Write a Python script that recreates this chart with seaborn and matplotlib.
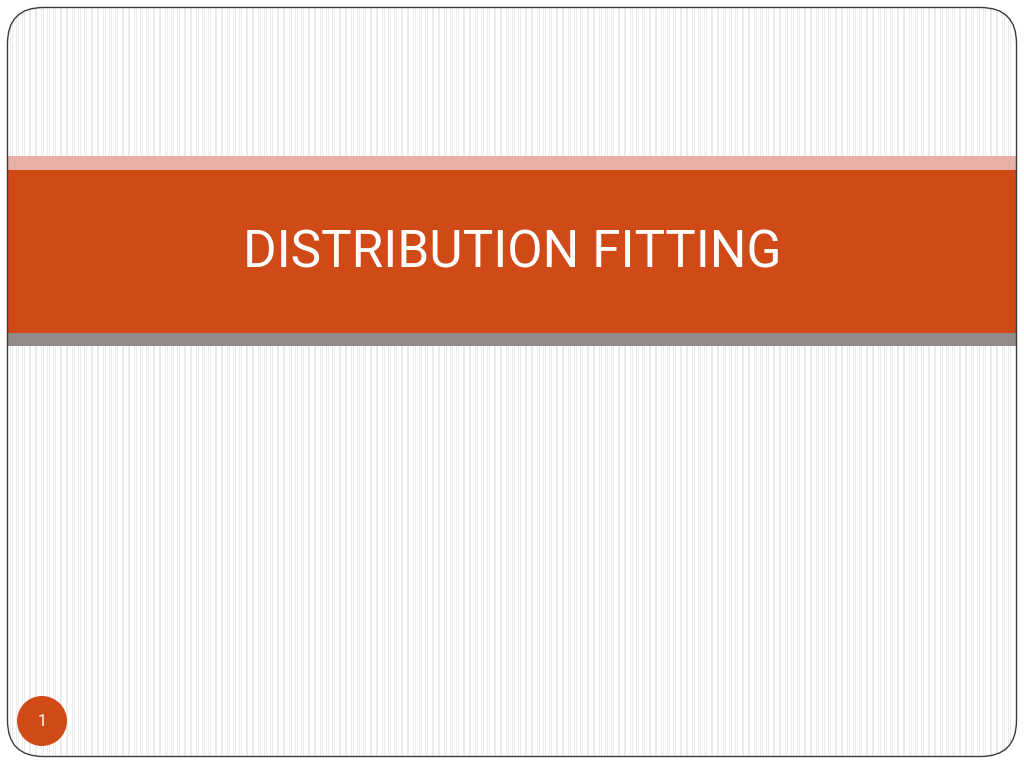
import numpy as np
import matplotlib
matplotlib.use("Agg")
import matplotlib.pyplot as plt
import matplotlib.patches as mpatches
import seaborn as sns

# contenu de la diapo
titre = "DISTRIBUTION FITTING"
numero_page = "1"

# couleurs
orange = "#D04A18"
rose = "#E8AFA4"
gris = "#938A8A"
rayure = "#E0E0E0"

sns.set_theme(style="white")
plt.rcParams['font.family'] = ['Liberation Sans Narrow', 'Roboto', 'DejaVu Sans']

fig = plt.figure(figsize=(10.24, 7.68), dpi=100)
ax = fig.add_axes([0, 0, 1, 1])
ax.set_xlim(0, 1024)
ax.set_ylim(768, 0)
ax.axis('off')

# cadre arrondi
x0, y0, x1, y1 = 7.5, 7.5, 1016.5, 756.5
r = 36
cadre = mpatches.FancyBboxPatch((x0 + r, y0 + r), (x1 - x0) - 2 * r, (y1 - y0) - 2 * r,
                                boxstyle=f"round,pad={r},rounding_size={r}",
                                facecolor="white", edgecolor="none", zorder=1)
ax.add_patch(cadre)

# rayures verticales (texture du fond) : paires de traits fins
xs = np.arange(10, 1014, 6.2)
for x in xs:
    for dx in (0, 1.6):
        ax.plot([x + dx, x + dx], [y0, y1], color=rayure, lw=0.45, zorder=2, clip_path=cadre)

# bandeaux
ax.add_patch(mpatches.Rectangle((x0, 156), x1 - x0, 14, facecolor=rose, edgecolor='none', zorder=3))
ax.add_patch(mpatches.Rectangle((x0, 170), x1 - x0, 163, facecolor=orange, edgecolor='none', zorder=3))
ax.add_patch(mpatches.Rectangle((x0, 333), x1 - x0, 13, facecolor=gris, edgecolor='none', zorder=3))

# titre
ax.text(512, 254, titre, color="white", fontsize=37, ha='center', va='center', zorder=4)

# pastille du numéro de page
ax.add_patch(mpatches.Circle((42, 721), 25, facecolor=orange, edgecolor='none', zorder=4))
ax.text(42, 722, numero_page, color="white", fontsize=11.5, ha='center', va='center', zorder=5)

# contour au-dessus
contour = mpatches.FancyBboxPatch((x0 + r, y0 + r), (x1 - x0) - 2 * r, (y1 - y0) - 2 * r,
                                  boxstyle=f"round,pad={r},rounding_size={r}",
                                  facecolor="none", edgecolor="#3a3a3a", linewidth=1.0, zorder=6)
ax.add_patch(contour)

fig.savefig("out.png", dpi=100)
